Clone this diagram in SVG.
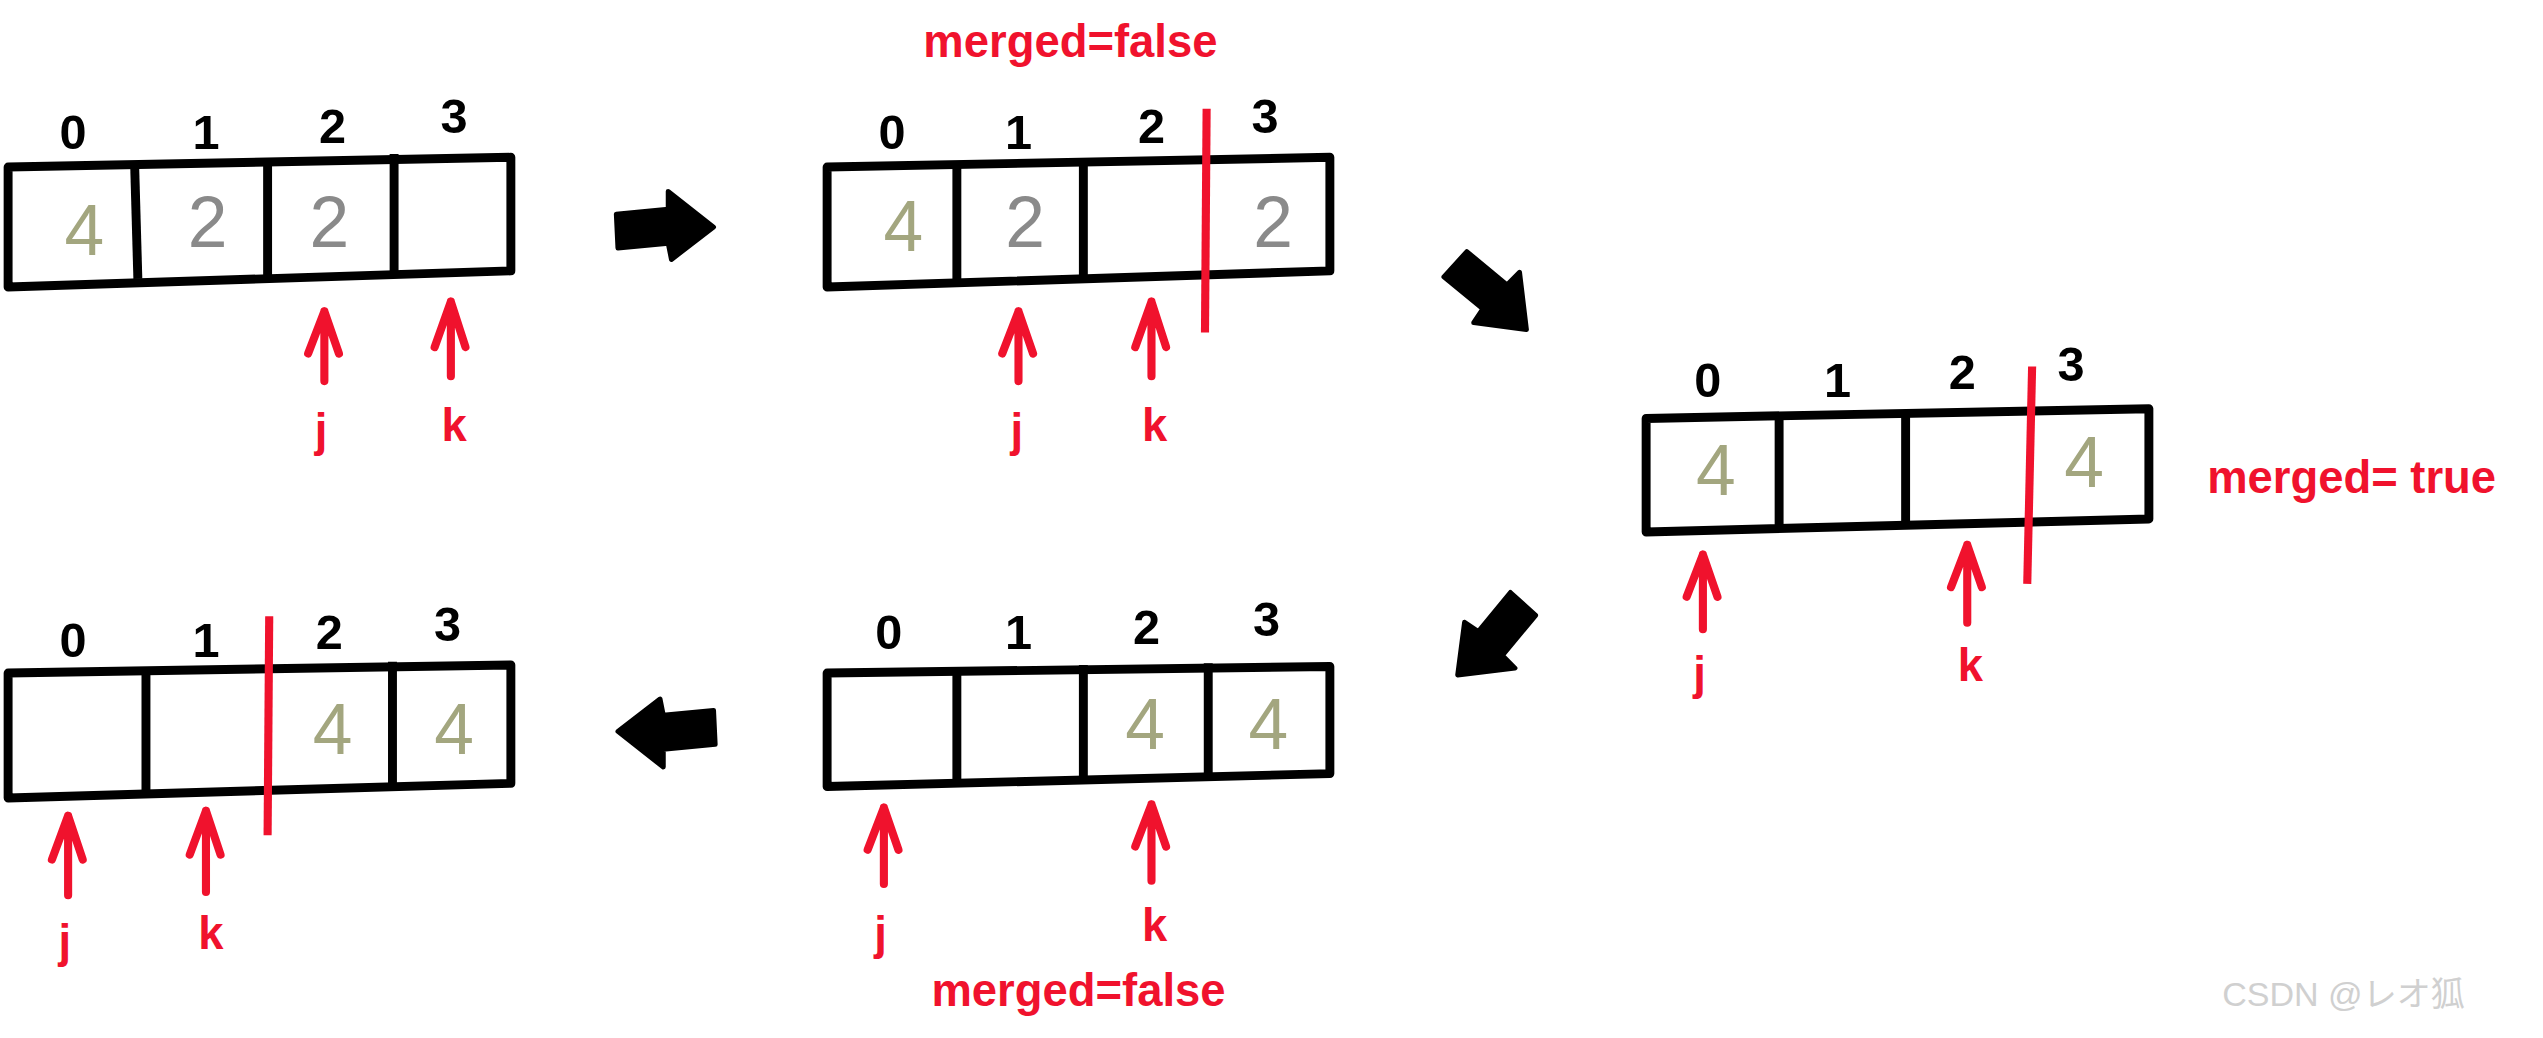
<svg xmlns="http://www.w3.org/2000/svg" width="2543" height="1038" viewBox="0 0 2543 1038">
<defs>
<style>
.box{fill:none;stroke:#000;stroke-width:5.5;stroke-linejoin:round}
.div{stroke:#000;stroke-width:5.5}
.idx{font-family:"Liberation Sans",sans-serif;font-weight:bold;font-size:30px;fill:#000;text-anchor:middle}
.v4{font-family:"Liberation Sans",sans-serif;font-size:44px;fill:#a3a67f;text-anchor:middle}
.v2{font-family:"Liberation Sans",sans-serif;font-size:44px;fill:#8a8a8a;text-anchor:middle}
.red{font-family:"Liberation Sans",sans-serif;font-weight:bold;font-size:28px;fill:#f0122d;text-anchor:middle}
.rl{stroke:#f0122d;stroke-width:5}
.ptr{stroke:#f0122d;stroke-width:5;fill:none;stroke-linecap:round;stroke-linejoin:round}
.big{fill:#000;stroke:#000;stroke-width:3;stroke-linejoin:round}
</style>
<path id="arr" d="M-30,-8 L2,-11 L2,-22 L30,0 L4,20 L2,10 L-29,13 Z"/>
</defs>
<g transform="scale(1.6218)">
<g id="connectors">
<use href="#arr" class="big" transform="translate(410,140)"/>
<use href="#arr" class="big" transform="translate(920,182) rotate(45)"/>
<use href="#arr" class="big" transform="translate(920,395) rotate(135)"/>
<use href="#arr" class="big" transform="translate(411,451) rotate(180)"/>
</g>
<g id="array1">
<path class="box" d="M5,103 L315,97 L315,167 L5,177 Z"/>
<line class="div" x1="83" y1="101" x2="85" y2="172"/>
<line class="div" x1="165" y1="100" x2="165" y2="173"/>
<line class="div" x1="243" y1="95" x2="243" y2="170"/>
<text class="idx" x="45" y="92">0</text><text class="idx" x="127" y="92">1</text><text class="idx" x="205" y="88">2</text><text class="idx" x="280" y="82">3</text>
<text class="v4" x="52" y="157">4</text><text class="v2" x="128" y="152">2</text><text class="v2" x="203" y="152">2</text>
<path class="ptr" d="M200,235 L200,192 M190,218 L200,192 L209,218"/>
<path class="ptr" d="M278,232 L278,186 M268,214 L278,186 L287,214"/>
<text class="red" x="198" y="275">j</text><text class="red" x="280" y="272">k</text>
</g>
<g id="array2">
<path class="box" d="M510,103 L820,97 L820,167 L510,177 Z"/>
<line class="div" x1="590" y1="101" x2="590" y2="172"/>
<line class="div" x1="668" y1="100" x2="668" y2="173"/>
<line class="rl" x1="744" y1="67" x2="743" y2="205"/>
<text class="idx" x="550" y="92">0</text><text class="idx" x="628" y="92">1</text><text class="idx" x="710" y="88">2</text><text class="idx" x="780" y="82">3</text>
<text class="v4" x="557" y="155">4</text><text class="v2" x="632" y="152">2</text><text class="v2" x="785" y="152">2</text>
<path class="ptr" d="M628,235 L628,192 M618,218 L628,192 L637,218"/>
<path class="ptr" d="M710,232 L710,186 M700,214 L710,186 L719,214"/>
<text class="red" x="627" y="275">j</text><text class="red" x="712" y="272">k</text>
<text class="red" x="660" y="35">merged=false</text>
</g>
<g id="array3">
<path class="box" d="M1015,258 L1325,252 L1325,320 L1015,328 Z"/>
<line class="div" x1="1097" y1="256" x2="1097" y2="324"/>
<line class="div" x1="1175" y1="254" x2="1175" y2="325"/>
<line class="rl" x1="1253" y1="226" x2="1250" y2="360"/>
<text class="idx" x="1053" y="245">0</text><text class="idx" x="1133" y="245">1</text><text class="idx" x="1210" y="240">2</text><text class="idx" x="1277" y="235">3</text>
<text class="v4" x="1058" y="305">4</text><text class="v4" x="1285" y="300">4</text>
<path class="ptr" d="M1050,388 L1050,342 M1040,368 L1050,342 L1059,368"/>
<path class="ptr" d="M1213,384 L1213,336 M1203,362 L1213,336 L1222,362"/>
<text class="red" x="1048" y="425">j</text><text class="red" x="1215" y="420">k</text>
<text class="red" x="1450" y="304">merged= true</text>
</g>
<g id="array4">
<path class="box" d="M510,415 L820,411 L820,477 L510,485 Z"/>
<line class="div" x1="590" y1="413" x2="590" y2="482"/>
<line class="div" x1="668" y1="410" x2="668" y2="480"/>
<line class="div" x1="745" y1="409" x2="745" y2="478"/>
<text class="idx" x="548" y="400">0</text><text class="idx" x="628" y="400">1</text><text class="idx" x="707" y="397">2</text><text class="idx" x="781" y="392">3</text>
<text class="v4" x="706" y="462">4</text><text class="v4" x="782" y="462">4</text>
<path class="ptr" d="M545,545 L545,498 M535,524 L545,498 L554,524"/>
<path class="ptr" d="M710,543 L710,496 M700,522 L710,496 L719,522"/>
<text class="red" x="543" y="585">j</text><text class="red" x="712" y="580">k</text>
<text class="red" x="665" y="620">merged=false</text>
</g>
<g id="array5">
<path class="box" d="M5,415 L315,410 L315,483 L5,492 Z"/>
<line class="div" x1="90" y1="414" x2="90" y2="489"/>
<line class="div" x1="242" y1="408" x2="242" y2="486"/>
<line class="rl" x1="166" y1="380" x2="165" y2="515"/>
<text class="idx" x="45" y="405">0</text><text class="idx" x="127" y="405">1</text><text class="idx" x="203" y="400">2</text><text class="idx" x="276" y="395">3</text>
<text class="v4" x="205" y="465">4</text><text class="v4" x="280" y="465">4</text>
<path class="ptr" d="M42,552 L42,503 M32,530 L42,503 L51,530"/>
<path class="ptr" d="M127,550 L127,500 M117,527 L127,500 L136,527"/>
<text class="red" x="40" y="590">j</text><text class="red" x="130" y="585">k</text>
</g>
<text x="1445" y="620" font-family="'Liberation Sans','Noto Sans CJK JP',sans-serif" font-size="21" fill="#d0d0d0" text-anchor="middle">CSDN @レオ狐</text>
</g>
</svg>
